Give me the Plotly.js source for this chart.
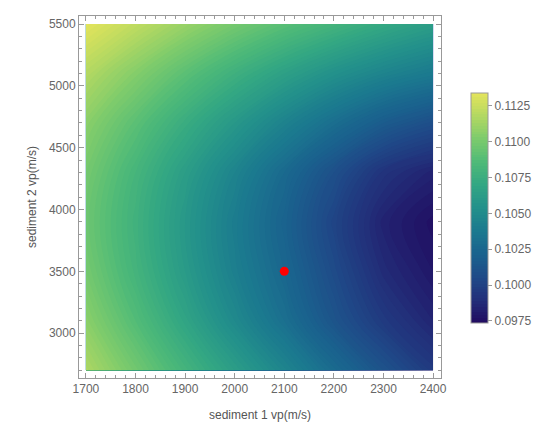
<!DOCTYPE html>
<html>
<head>
<meta charset="utf-8">
<script src="https://cdn.plot.ly/plotly-3.0.1.min.js"></script>
<style>
  body { margin: 0; background: white; }
  #chart { width: 550px; height: 438px; }
</style>
</head>
<body>
<div id="chart"></div>
<script>
// ---- data ----
const vp1 = [1700, 1800, 1900, 2000, 2100, 2200, 2300, 2400];
const vp2 = [2700, 3100, 3500, 3900, 4300, 4700, 5100, 5500];

// misfit, one row per vp2 value (bottom to top)
const misfit = [
  [0.1116, 0.1098, 0.1080, 0.1063, 0.1046, 0.1028, 0.1011, 0.0996],
  [0.1106, 0.1087, 0.1068, 0.1049, 0.1031, 0.1012, 0.0996, 0.0985],
  [0.1099, 0.1080, 0.1061, 0.1042, 0.1025, 0.1006, 0.0988, 0.0979],
  [0.1096, 0.1078, 0.1059, 0.1040, 0.1022, 0.1002, 0.0984, 0.0976],
  [0.1099, 0.1081, 0.1063, 0.1045, 0.1027, 0.1009, 0.0992, 0.0984],
  [0.1106, 0.1090, 0.1074, 0.1059, 0.1044, 0.1030, 0.1017, 0.1008],
  [0.1118, 0.1104, 0.1090, 0.1077, 0.1065, 0.1054, 0.1045, 0.1038],
  [0.1134, 0.1122, 0.1110, 0.1099, 0.1089, 0.1080, 0.1071, 0.1063]
];

const bestX = [2100];
const bestY = [3500];

const cbTicks = [0.0975, 0.1000, 0.1025, 0.1050, 0.1075, 0.1100, 0.1125];

// Mathematica-like BlueGreenYellow
const bgy = [
  [0.0, '#210b60'], [0.1, '#222f7a'], [0.2, '#1f4a88'], [0.3, '#1a628e'],
  [0.4, '#1b798f'], [0.5, '#23908b'], [0.6, '#32a683'], [0.7, '#4fba78'],
  [0.8, '#7ccb6c'], [0.9, '#b2d862'], [1.0, '#e3e45b']
];

const grey = '#999999';
const txt = '#666666';

const axisBase = {
  showline: true,
  linecolor: grey,
  linewidth: 1,
  mirror: 'allticks',
  ticks: 'inside',
  ticklen: 5,
  tickcolor: grey,
  showgrid: false,
  zeroline: false,
  tickfont: { size: 12, color: txt, family: 'Liberation Sans, Arial, sans-serif' }
};

Plotly.newPlot('chart', [
  {
    type: 'contour',
    x: vp1,
    y: vp2,
    z: misfit,
    colorscale: bgy,
    zauto: false,
    zmin: 0.09736,
    zmax: 0.11339,
    autocontour: false,
    contours: { start: 0.0973, end: 0.1134, size: 0.0002, coloring: 'fill', showlines: false },
    line: { width: 0 },
    hoverinfo: 'skip',
    colorbar: {
      x: 1.083,
      xanchor: 'left',
      y: 0.4696,
      yanchor: 'middle',
      len: 0.635,
      lenmode: 'fraction',
      thickness: 17,
      thicknessmode: 'pixels',
      xpad: 0,
      ypad: 0,
      outlinecolor: grey,
      outlinewidth: 1,
      tickvals: cbTicks,
      tickformat: '.4f',
      ticks: 'outside',
      ticklen: 4,
      tickcolor: grey,
      tickfont: { size: 12, color: txt, family: 'Liberation Sans, Arial, sans-serif' }
    }
  },
  {
    type: 'scatter',
    mode: 'markers',
    x: bestX,
    y: bestY,
    marker: { color: '#ff0000', size: 9 },
    showlegend: false,
    hoverinfo: 'skip'
  }
], {
  width: 550,
  height: 438,
  margin: { l: 79, r: 109, t: 16, b: 60 },
  paper_bgcolor: 'white',
  plot_bgcolor: 'white',
  showlegend: false,
  xaxis: Object.assign({}, axisBase, {
    range: [1686, 2416],
    tickvals: [1700, 1800, 1900, 2000, 2100, 2200, 2300, 2400],
    minor: { dtick: 20, tick0: 1700, ticks: 'inside', ticklen: 3, tickcolor: grey },
    title: { text: 'sediment 1 vp(m/s)', standoff: 15, font: { size: 12, color: '#555555', family: 'Liberation Sans, Arial, sans-serif' } }
  }),
  yaxis: Object.assign({}, axisBase, {
    range: [2637, 5565],
    tickvals: [3000, 3500, 4000, 4500, 5000, 5500],
    minor: { dtick: 100, tick0: 3000, ticks: 'inside', ticklen: 3, tickcolor: grey },
    title: { text: 'sediment 2 vp(m/s)', standoff: 9, font: { size: 12, color: '#555555', family: 'Liberation Sans, Arial, sans-serif' } }
  })
}, {
  displayModeBar: false,
  staticPlot: true
});
</script>
</body>
</html>
